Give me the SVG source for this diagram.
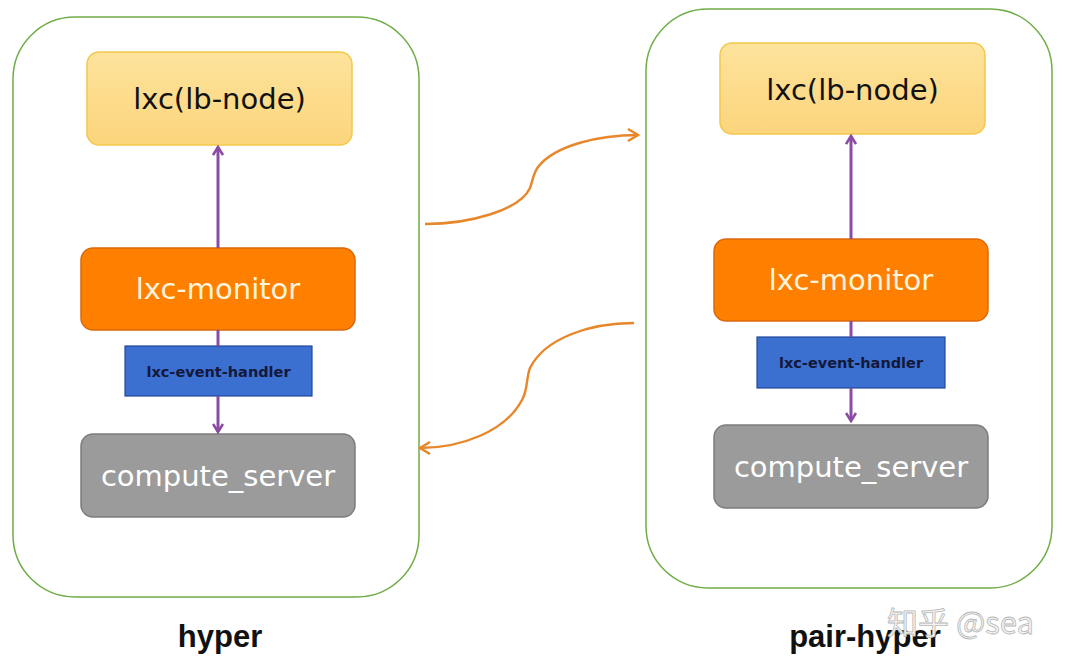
<svg xmlns="http://www.w3.org/2000/svg" width="1069" height="667" viewBox="0 0 1069 667">
<defs>
<linearGradient id="yg" x1="0" y1="0" x2="0" y2="1"><stop offset="0" stop-color="#fde39c"/><stop offset="1" stop-color="#fcd57c"/></linearGradient>
<marker id="pa" viewBox="0 0 12 12" refX="10" refY="6" markerWidth="12" markerHeight="12" markerUnits="userSpaceOnUse" orient="auto"><path d="M2,1 L10,6 L2,11" fill="none" stroke="#8b4aa3" stroke-width="2.6"/></marker>
<marker id="oa" viewBox="0 0 14 14" refX="12" refY="7" markerWidth="14" markerHeight="14" markerUnits="userSpaceOnUse" orient="auto"><path d="M2,1 L12,7 L2,13" fill="none" stroke="#e8862a" stroke-width="2.4"/></marker>
</defs>
<style>
.cont{fill:#fff;stroke:#70ad47;stroke-width:1.5}
.lb{fill:url(#yg);stroke:#f3c84a;stroke-width:1.5}
.mon{fill:#ff7f00;stroke:#d9690a;stroke-width:1.5}
.evh{fill:#3b6fd0;stroke:#24489c;stroke-width:1.2}
.cs{fill:#9b9b9b;stroke:#7c7c7c;stroke-width:1.5}
.t{font-family:"DejaVu Sans",Verdana,sans-serif;font-size:29px;text-anchor:middle}
.te{font-family:"DejaVu Sans",Verdana,sans-serif;font-size:14.5px;font-weight:bold;fill:#14183a;text-anchor:middle}
.lbl{font-family:"Liberation Sans",Arial,sans-serif;font-size:31px;font-weight:bold;fill:#111;text-anchor:middle}
.pl{fill:none;stroke:#8b4aa3;stroke-width:3}
.ol{fill:none;stroke:#e8862a;stroke-width:2.4}
</style>
<rect width="1069" height="667" fill="#fff"/>
<g id="hyper">
<rect class="cont" x="13" y="17" width="406" height="580" rx="62"/>
<text class="lbl" x="220" y="647">hyper</text>
</g>
<g id="pair-hyper">
<rect class="cont" x="646" y="9" width="406" height="579" rx="62"/>
<text class="lbl" x="865" y="647">pair-hyper</text>
</g>
<g id="left-lb-node">
<rect class="lb" x="87" y="52" width="265" height="93" rx="12"/>
<text class="t" x="219.5" y="109" fill="#111">lxc(lb-node)</text>
</g>
<g id="left-lxc-monitor">
<rect class="mon" x="81" y="248" width="274" height="82" rx="12"/>
<text class="t" x="218" y="299" fill="#fff5dc">lxc-monitor</text>
</g>
<g id="left-event-handler">
<rect class="evh" x="125" y="346" width="187" height="50"/>
<text class="te" x="218.5" y="377">lxc-event-handler</text>
</g>
<g id="left-compute-server">
<rect class="cs" x="81" y="434" width="274" height="83" rx="12"/>
<text class="t" x="218" y="486" fill="#fff">compute_server</text>
</g>
<g id="right-lb-node">
<rect class="lb" x="720" y="43" width="265" height="91" rx="12"/>
<text class="t" x="852.5" y="100" fill="#111">lxc(lb-node)</text>
</g>
<g id="right-lxc-monitor">
<rect class="mon" x="714" y="239" width="274" height="82" rx="12"/>
<text class="t" x="851" y="290" fill="#fff5dc">lxc-monitor</text>
</g>
<g id="right-event-handler">
<rect class="evh" x="757" y="337" width="188" height="51"/>
<text class="te" x="851" y="368">lxc-event-handler</text>
</g>
<g id="right-compute-server">
<rect class="cs" x="714" y="425" width="274" height="83" rx="12"/>
<text class="t" x="851" y="477" fill="#fff">compute_server</text>
</g>
<g id="connectors">
<line class="pl" x1="218" y1="248" x2="218" y2="147" marker-end="url(#pa)"/>
<line class="pl" x1="218" y1="330" x2="218" y2="346"/>
<line class="pl" x1="218" y1="396" x2="218" y2="432" marker-end="url(#pa)"/>
<line class="pl" x1="851" y1="239" x2="851" y2="136" marker-end="url(#pa)"/>
<line class="pl" x1="851" y1="321" x2="851" y2="337"/>
<line class="pl" x1="851" y1="388" x2="851" y2="421" marker-end="url(#pa)"/>
<path class="ol" d="M425,224 C470,224 520,210 530,188 C533,180 533,174 538,167 C555,145 600,135 638,135" marker-end="url(#oa)"/>
<path class="ol" d="M634,323 C590,323 545,338 530,368 C526,378 528,390 522,400 C505,432 460,448 420,448" marker-end="url(#oa)"/>
</g>
<text x="887" y="634" font-family="'Noto Sans CJK SC','DejaVu Sans',sans-serif" font-size="31" fill="#f4f4f4" stroke="#b8b8b8" stroke-width="0.8">知乎 @sea</text>
</svg>
